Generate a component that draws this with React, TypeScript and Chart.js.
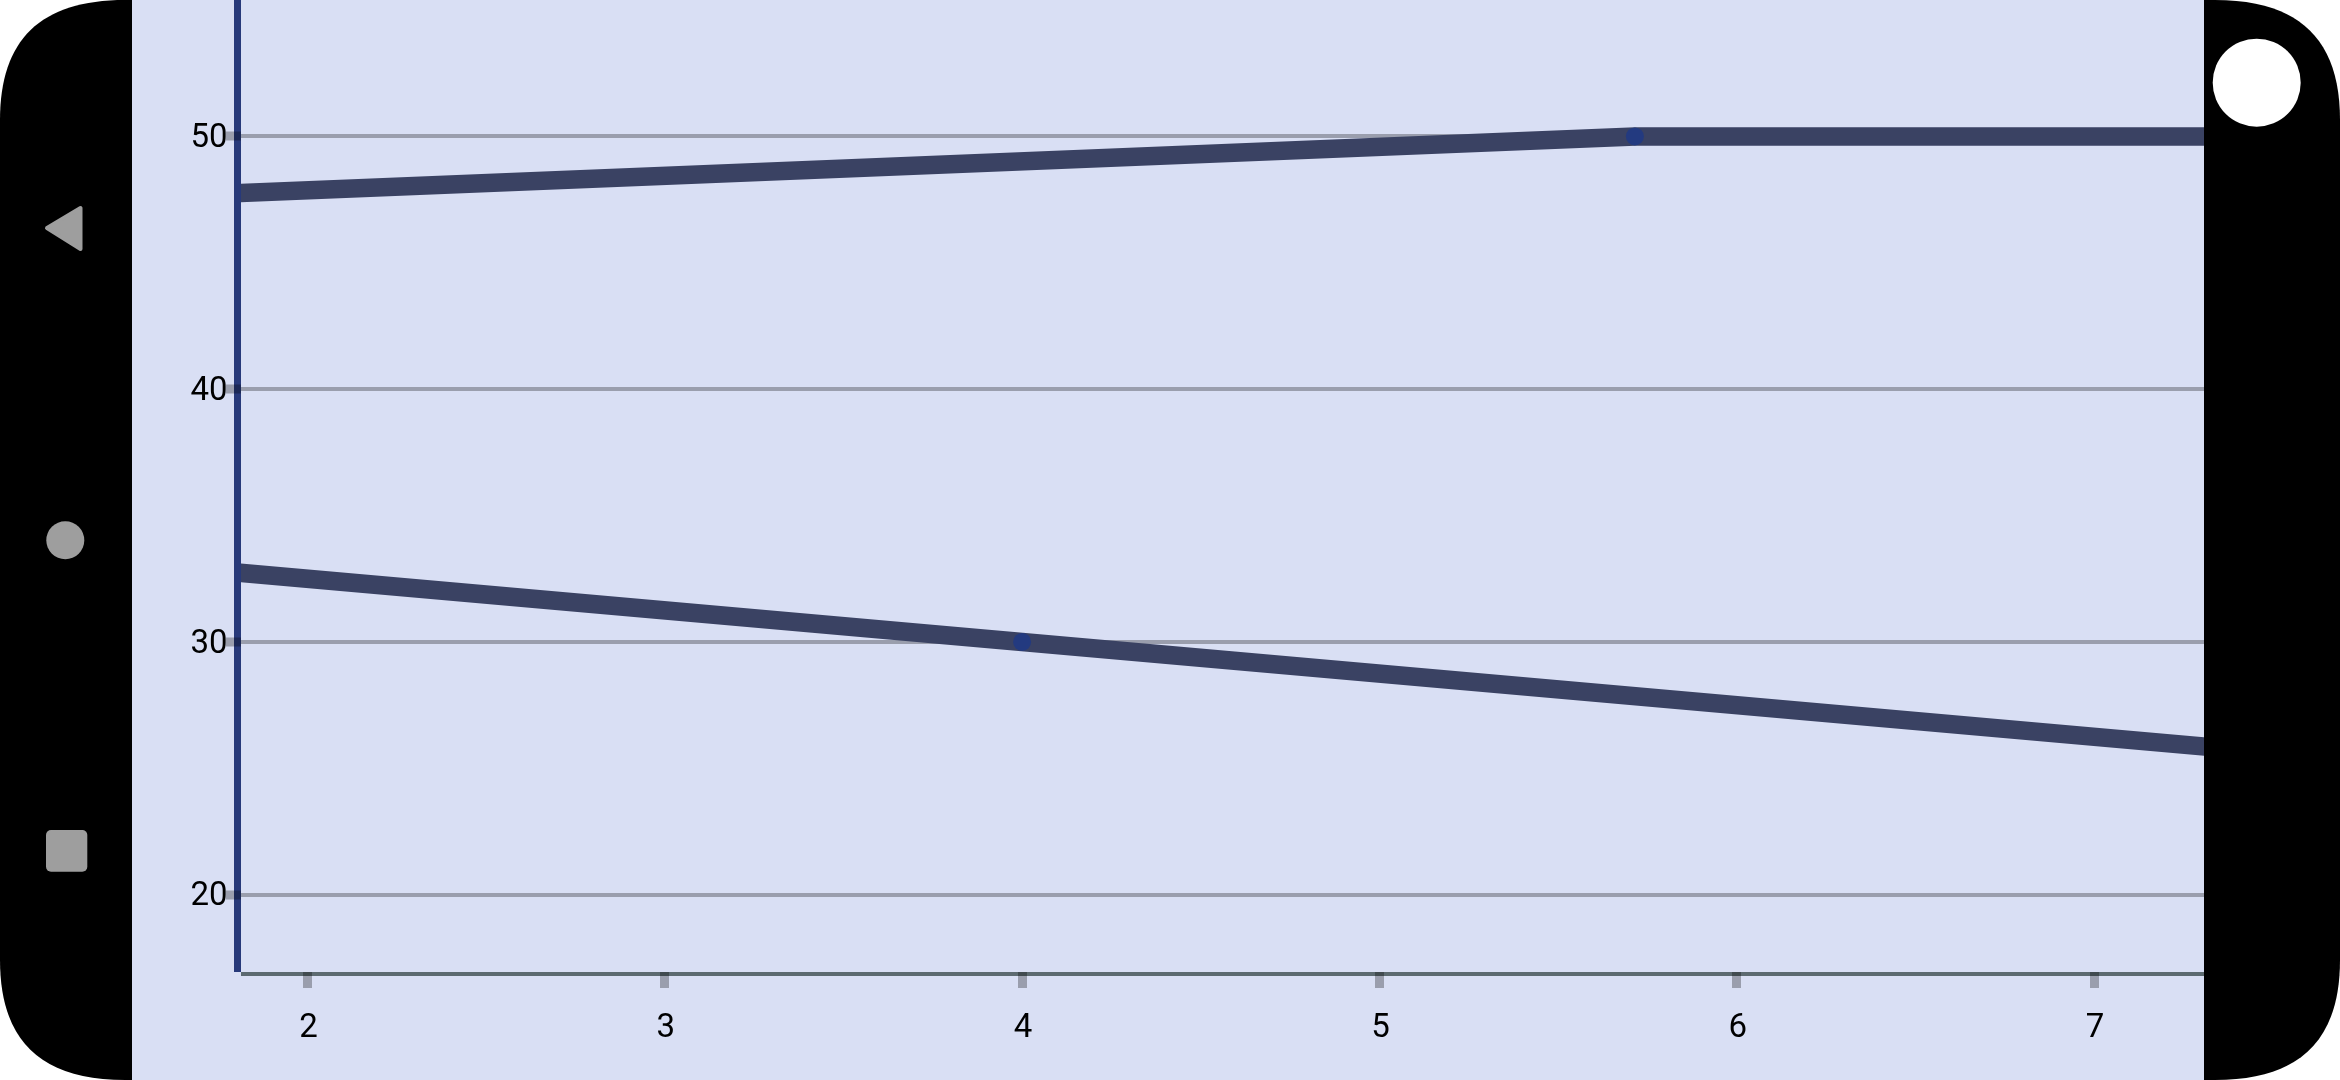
import React, { useEffect, useRef } from "react";
import { Chart, registerables } from "chart.js";

Chart.register(...registerables);

const upperX = [1, 5.715, 9];
const upperY = [47.3, 50, 50];
const lowerX = [1, 4, 8];
const lowerY = [33.75, 30, 25];
const xRange = [1.8139, 7.3078];
const yRange = [16.94, 55.4];
const xStep = 1;
const yStep = 10;

const LINE = "#3a4263";
const POINT = "#233a80";
const TICK = "rgba(0,0,0,0.29)";
const FONT = { family: "Roboto", size: 33 };

const axisLines = {
  id: "axisLines",
  beforeDraw(chart: any) {
    const { ctx, chartArea: a } = chart;
    ctx.save();
    ctx.fillStyle = "#27397a";
    ctx.fillRect(a.left - 7, 0, 7, a.bottom);
    ctx.fillStyle = "#5c6a70";
    ctx.fillRect(a.left, a.bottom, a.right - a.left, 4);
    ctx.restore();
  },
};

const toPoints = (xs: number[], ys: number[]) => xs.map((x, i) => ({ x, y: ys[i] }));

export default function App() {
  const ref = useRef<HTMLCanvasElement>(null);
  useEffect(() => {
    const dataset = (data: any) => ({
      data,
      borderColor: LINE,
      borderWidth: 18.5,
      pointRadius: 9,
      pointBorderWidth: 0,
      pointBackgroundColor: POINT,
      tension: 0,
      clip: 0,
    });
    const chart = new Chart(ref.current!, {
      type: "line",
      data: { datasets: [dataset(toPoints(upperX, upperY)), dataset(toPoints(lowerX, lowerY))] },
      plugins: [axisLines],
      options: {
        animation: false,
        responsive: false,
        devicePixelRatio: 1,
        layout: { autoPadding: false, padding: { left: 0, top: 0, right: 136, bottom: 0 } },
        plugins: { legend: { display: false }, tooltip: { enabled: false }, title: { display: false } },
        scales: {
          x: {
            type: "linear",
            min: xRange[0],
            max: xRange[1],
            afterFit: (s: any) => { s.height = 108; s.paddingLeft = 0; s.paddingRight = 0; },
            border: { display: false },
            grid: { drawOnChartArea: false, tickLength: 16, tickWidth: 9, tickColor: TICK },
            ticks: {
              stepSize: xStep,
              includeBounds: false,
              autoSkip: false,
              maxRotation: 0,
              color: "#000",
              font: FONT,
              padding: 21,
              labelOffset: 1,
            },
          },
          y: {
            type: "linear",
            min: yRange[0],
            max: yRange[1],
            afterFit: (s: any) => { s.width = 241; s.paddingTop = 0; s.paddingBottom = 0; },
            border: { display: false },
            grid: { color: TICK, lineWidth: 4, tickLength: 15, tickWidth: 9, tickColor: TICK },
            ticks: {
              stepSize: yStep,
              includeBounds: false,
              autoSkip: false,
              color: "#000",
              font: FONT,
              padding: -1.5,
              labelOffset: 2.5,
            },
          },
        },
      },
    } as any);
    return () => chart.destroy();
  }, []);

  return (
    <div style={{ position: "fixed", left: 0, top: 0, width: 2340, height: 1080, background: "#fff", overflow: "hidden" }}>
      <div style={{ position: "absolute", left: 132, top: 0, width: 2072, height: 1080, background: "#d9dff4" }} />
      <canvas ref={ref} width={2340} height={1080} style={{ position: "absolute", left: 0, top: 0, width: 2340, height: 1080 }} />
      <svg width={2340} height={1080} style={{ position: "absolute", left: 0, top: 0, pointerEvents: "none" }}>
        <path d="M132 0H125C40 0 0 40 0 120V960C0 1040 40 1080 125 1080H132Z" fill="#000" />
        <path d="M2204 0H2215C2300 0 2340 40 2340 120V960C2340 1040 2300 1080 2215 1080H2204Z" fill="#000" />
        <path d="M47 228L80.5 208V249Z" fill="#9e9e9e" stroke="#9e9e9e" strokeWidth={4} strokeLinejoin="round" />
        <circle cx={65.3} cy={540.3} r={19} fill="#9e9e9e" />
        <rect x={46} y={830} width={41.3} height={41.7} rx={5} fill="#9e9e9e" />
        <circle cx={2256.7} cy={82.7} r={44} fill="#fff" />
      </svg>
    </div>
  );
}
